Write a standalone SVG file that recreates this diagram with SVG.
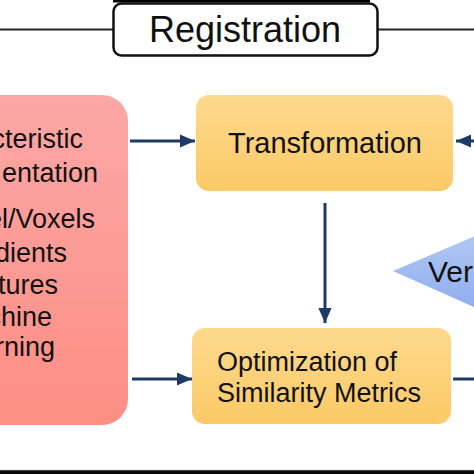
<svg xmlns="http://www.w3.org/2000/svg" width="474" height="474" viewBox="0 0 474 474">
<defs>
<linearGradient id="gPink" x1="0" y1="0" x2="0" y2="1"><stop offset="0" stop-color="#fba7a6"/><stop offset="1" stop-color="#fd8e84"/></linearGradient>
<linearGradient id="gYel" x1="0" y1="0" x2="0" y2="1"><stop offset="0" stop-color="#fdd98d"/><stop offset="1" stop-color="#fbca66"/></linearGradient>
<linearGradient id="gBlue" x1="0" y1="0" x2="0" y2="1"><stop offset="0" stop-color="#b2c7f4"/><stop offset="1" stop-color="#8eaeee"/></linearGradient>
<marker id="ah" markerWidth="5" markerHeight="4.4" refX="5" refY="2.2" orient="auto" markerUnits="strokeWidth"><path d="M0,0 L5,2.2 L0,4.4 Z" fill="#1f3a66"/></marker>
<style>
.t{font-family:"Liberation Sans",Arial,sans-serif;fill:#111}
.c{stroke:#1f3a66;stroke-width:3;fill:none}
</style>
</defs>
<rect width="474" height="474" fill="#fff"/>
<rect x="113" y="0" width="257" height="2.5" fill="#000"/>
<rect x="0" y="470" width="474" height="4" fill="#080808"/>
<line x1="0" y1="470.3" x2="474" y2="470.3" stroke="#777" stroke-width="0.8"/>

<g id="registration">
<line x1="0" y1="29.5" x2="113" y2="29.5" stroke="#222" stroke-width="2"/>
<line x1="378" y1="29.5" x2="474" y2="29.5" stroke="#222" stroke-width="2"/>
<rect x="113.5" y="3.5" width="264" height="52" rx="8" fill="#fff" stroke="#111" stroke-width="2.5"/>
<text class="t" x="245" y="42" font-size="36" text-anchor="middle">Registration</text>
</g>

<g id="representation">
<rect x="-30" y="95" width="158" height="330" rx="26" fill="url(#gPink)"/>
<g class="t" font-size="27" text-anchor="end">
<text x="83" y="148">cteristic</text>
<text x="98" y="182">entation</text>
<text x="95" y="228">el/Voxels</text>
<text x="67" y="261.5">dients</text>
<text x="58" y="294">tures</text>
<text x="52" y="326">chine</text>
<text x="55" y="356">rning</text>
</g>
</g>

<g id="transformation">
<rect x="196" y="95" width="257" height="96" rx="13" fill="url(#gYel)"/>
<text class="t" x="325" y="153" font-size="29" text-anchor="middle">Transformation</text>
</g>

<g id="optimization">
<rect x="192" y="328" width="259" height="96" rx="13" fill="url(#gYel)"/>
<text class="t" x="217" y="371" font-size="27">Optimization of</text>
<text class="t" x="217" y="402" font-size="27">Similarity Metrics</text>
</g>

<g id="verification">
<polygon points="393,271 474,236.5 474,307" fill="url(#gBlue)"/>
<text class="t" x="428" y="282" font-size="30">Ver</text>
</g>

<g id="connectors">
<line class="c" x1="130" y1="141" x2="195" y2="141" marker-end="url(#ah)"/>
<line class="c" x1="480" y1="141" x2="456" y2="141" marker-end="url(#ah)"/>
<line class="c" x1="325" y1="203" x2="325" y2="323" marker-end="url(#ah)"/>
<line class="c" x1="132" y1="379" x2="192" y2="379" marker-end="url(#ah)"/>
<line class="c" x1="453" y1="379" x2="480" y2="379"/>
</g>
</svg>
